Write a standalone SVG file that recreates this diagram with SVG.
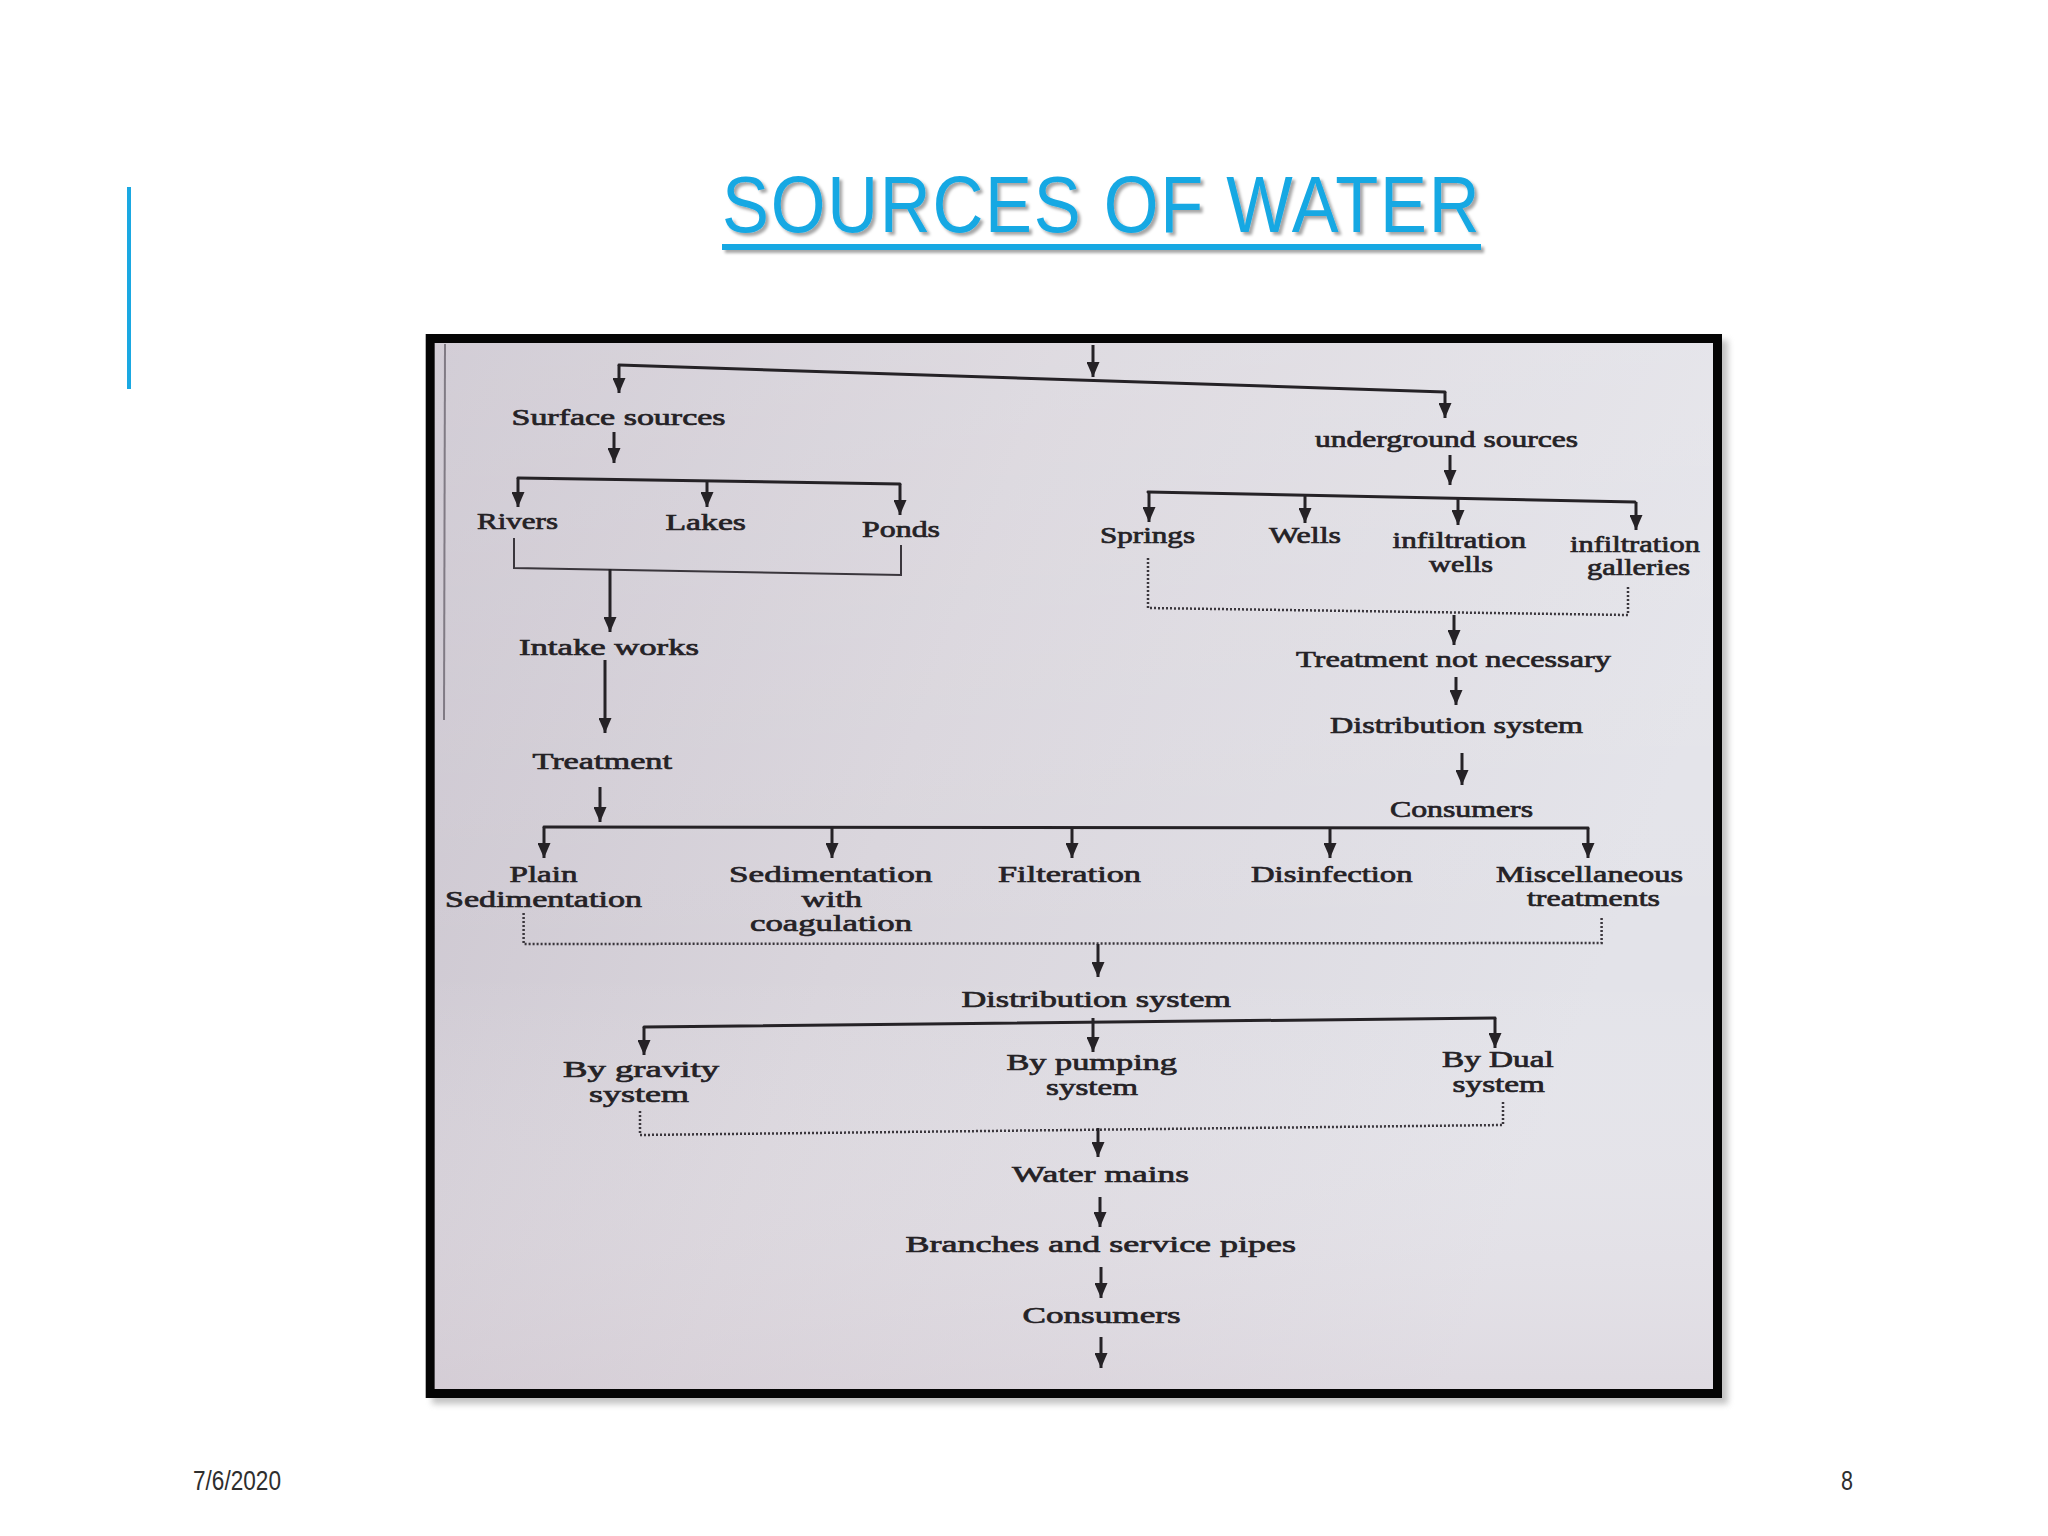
<svg xmlns="http://www.w3.org/2000/svg" width="2048" height="1536" viewBox="0 0 2048 1536">
<defs>
<style>
.t{font-family:"Liberation Serif","Times New Roman",serif;font-size:24px;fill:#252226;stroke:#252226;stroke-width:0.7px}
.ln{fill:none;stroke:#252226;stroke-width:3;stroke-linecap:round;stroke-linejoin:round}
.ar{fill:none;stroke:#252226;stroke-width:3;marker-end:url(#ah)}
.br{fill:none;stroke:#3a363c;stroke-width:2}
.dot{fill:none;stroke:#3a363c;stroke-width:2.5;stroke-dasharray:2 2}
.ft{font-family:"Liberation Sans",Arial,sans-serif;font-size:27px;fill:#2e2e2e}
</style>
<marker id="ah" viewBox="0 0 13 15" refX="6.5" refY="15" markerWidth="13" markerHeight="15" markerUnits="userSpaceOnUse" orient="0">
<path d="M0,0 L13,0 L6.5,15 Z" fill="#252226"/>
</marker>
<linearGradient id="paper" x1="0" y1="0" x2="1" y2="0.3">
<stop offset="0" stop-color="#cbc5cf"/>
<stop offset="0.45" stop-color="#d9d5dc"/>
<stop offset="1" stop-color="#e3e3e9"/>
</linearGradient>
<linearGradient id="shade" x1="0" y1="0" x2="0" y2="1">
<stop offset="0" stop-color="#ffffff" stop-opacity="0.15"/>
<stop offset="0.6" stop-color="#ffffff" stop-opacity="0"/>
<stop offset="1" stop-color="#d6cad3" stop-opacity="0.35"/>
</linearGradient>
<filter id="tsh" x="-5%" y="-20%" width="110%" height="150%">
<feGaussianBlur in="SourceAlpha" stdDeviation="1.5"/>
<feOffset dx="3" dy="3" result="b"/>
<feFlood flood-color="#000" flood-opacity="0.35"/>
<feComposite in2="b" operator="in"/>
<feMerge><feMergeNode/><feMergeNode in="SourceGraphic"/></feMerge>
</filter>
<filter id="fsh" x="-5%" y="-5%" width="110%" height="110%">
<feGaussianBlur stdDeviation="3"/>
</filter>
</defs>
<rect width="2048" height="1536" fill="#ffffff"/>
<rect x="127" y="187" width="4" height="202" fill="#1aa8e2"/>
<g id="title" filter="url(#tsh)">
<text transform="translate(722,232) scale(0.88,1)" x="0" y="0" font-family="Liberation Sans, Arial, sans-serif" font-size="80" fill="#17a8e3" textLength="861" lengthAdjust="spacing">SOURCES OF WATER</text>
<rect x="722" y="244" width="759" height="6" fill="#17a8e3"/>
</g>
<g id="photo">
<rect x="432" y="340" width="1296" height="1064" fill="#9a9a9a" opacity="0.6" filter="url(#fsh)"/>
<rect x="430.2" y="338.5" width="1287.3" height="1055" fill="url(#paper)" stroke="#050505" stroke-width="9"/>
<rect x="434.7" y="343" width="1278.3" height="1046" fill="url(#shade)"/>
<line x1="445" y1="344" x2="444" y2="720" stroke="#5e5862" stroke-width="2" opacity="0.7"/>
</g>
<g id="connectors">
<line class="ar" x1="1093" y1="345" x2="1093" y2="377"/>
<line class="ln" x1="619" y1="365" x2="1445" y2="392"/>
<line class="ar" x1="619" y1="365" x2="619" y2="393"/>
<line class="ar" x1="1445" y1="392" x2="1445" y2="418"/>
<line class="ar" x1="614" y1="432" x2="614" y2="463"/>
<line class="ln" x1="518" y1="478" x2="900" y2="484"/>
<line class="ar" x1="518" y1="478" x2="518" y2="507"/>
<line class="ar" x1="707" y1="481" x2="707" y2="507"/>
<line class="ar" x1="900" y1="484" x2="900" y2="515"/>
<polyline class="br" points="514,538 514,568 901,575 901,545"/>
<line class="ar" x1="610" y1="569" x2="610" y2="632"/>
<line class="ar" x1="605" y1="660" x2="605" y2="733"/>
<line class="ar" x1="600" y1="787" x2="600" y2="822"/>
<line class="ar" x1="1450" y1="455" x2="1450" y2="485"/>
<line class="ln" x1="1148" y1="492" x2="1635" y2="502"/>
<line class="ar" x1="1149" y1="492" x2="1149" y2="522"/>
<line class="ar" x1="1305" y1="495" x2="1305" y2="523"/>
<line class="ar" x1="1458" y1="498" x2="1458" y2="525"/>
<line class="ar" x1="1636" y1="502" x2="1636" y2="530"/>
<polyline class="dot" points="1148,558 1148,608 1628,615 1628,587"/>
<line class="ar" x1="1454" y1="615" x2="1454" y2="645"/>
<line class="ar" x1="1456" y1="677" x2="1456" y2="705"/>
<line class="ar" x1="1462" y1="753" x2="1462" y2="785"/>
<line class="ln" x1="544" y1="827" x2="1588" y2="828"/>
<line class="ar" x1="544" y1="827" x2="544" y2="858"/>
<line class="ar" x1="832" y1="827" x2="832" y2="858"/>
<line class="ar" x1="1072" y1="828" x2="1072" y2="858"/>
<line class="ar" x1="1330" y1="828" x2="1330" y2="858"/>
<line class="ar" x1="1588" y1="828" x2="1588" y2="858"/>
<polyline class="dot" points="523.6,913 523.6,944 1601.6,943 1601.6,917"/>
<line class="ar" x1="1098" y1="944" x2="1098" y2="977"/>
<line class="ln" x1="644" y1="1027" x2="1495" y2="1018"/>
<line class="ar" x1="1093" y1="1018" x2="1093" y2="1052"/>
<line class="ar" x1="644" y1="1027" x2="644" y2="1055"/>
<line class="ar" x1="1495" y1="1018" x2="1495" y2="1048"/>
<polyline class="dot" points="640,1111 640,1135 1503,1125 1503,1100"/>
<line class="ar" x1="1098" y1="1128" x2="1098" y2="1157"/>
<line class="ar" x1="1100" y1="1197" x2="1100" y2="1227"/>
<line class="ar" x1="1101" y1="1267" x2="1101" y2="1298"/>
<line class="ar" x1="1101" y1="1337" x2="1101" y2="1368"/>
</g>
<g id="n-surface"><text class="t" x="511.5" y="425" textLength="214" lengthAdjust="spacingAndGlyphs">Surface sources</text></g>
<g id="n-underground"><text class="t" x="1315" y="447" textLength="263" lengthAdjust="spacingAndGlyphs">underground sources</text></g>
<g id="n-rivers"><text class="t" x="477" y="529" textLength="81" lengthAdjust="spacingAndGlyphs">Rivers</text></g>
<g id="n-lakes"><text class="t" x="665.5" y="530" textLength="80.5" lengthAdjust="spacingAndGlyphs">Lakes</text></g>
<g id="n-ponds"><text class="t" x="862" y="537" textLength="78" lengthAdjust="spacingAndGlyphs">Ponds</text></g>
<g id="n-springs"><text class="t" x="1100" y="543" textLength="95" lengthAdjust="spacingAndGlyphs">Springs</text></g>
<g id="n-wells"><text class="t" x="1269" y="543" textLength="72" lengthAdjust="spacingAndGlyphs">Wells</text></g>
<g id="n-infwells"><text class="t" x="1392.6" y="548" textLength="133.4" lengthAdjust="spacingAndGlyphs">infiltration</text><text class="t" x="1429" y="572" textLength="64" lengthAdjust="spacingAndGlyphs">wells</text></g>
<g id="n-infgal"><text class="t" x="1570" y="552" textLength="130" lengthAdjust="spacingAndGlyphs">infiltration</text><text class="t" x="1587" y="575" textLength="103" lengthAdjust="spacingAndGlyphs">galleries</text></g>
<g id="n-intake"><text class="t" x="519" y="655" textLength="180" lengthAdjust="spacingAndGlyphs">Intake works</text></g>
<g id="n-treatment"><text class="t" x="532.5" y="769" textLength="139.5" lengthAdjust="spacingAndGlyphs">Treatment</text></g>
<g id="n-notnec"><text class="t" x="1296" y="667" textLength="315" lengthAdjust="spacingAndGlyphs">Treatment not necessary</text></g>
<g id="n-dist1"><text class="t" x="1330" y="733" textLength="253" lengthAdjust="spacingAndGlyphs">Distribution system</text></g>
<g id="n-cons1"><text class="t" x="1390" y="817" textLength="143" lengthAdjust="spacingAndGlyphs">Consumers</text></g>
<g id="n-plain"><text class="t" x="509.5" y="882" textLength="68" lengthAdjust="spacingAndGlyphs">Plain</text><text class="t" x="445" y="907" textLength="197" lengthAdjust="spacingAndGlyphs">Sedimentation</text></g>
<g id="n-sedcoag"><text class="t" x="729" y="882" textLength="203.5" lengthAdjust="spacingAndGlyphs">Sedimentation</text><text class="t" x="801.5" y="907" textLength="60.5" lengthAdjust="spacingAndGlyphs">with</text><text class="t" x="750" y="931" textLength="162" lengthAdjust="spacingAndGlyphs">coagulation</text></g>
<g id="n-filter"><text class="t" x="998" y="882" textLength="143" lengthAdjust="spacingAndGlyphs">Filteration</text></g>
<g id="n-disinf"><text class="t" x="1251" y="882" textLength="161.5" lengthAdjust="spacingAndGlyphs">Disinfection</text></g>
<g id="n-misc"><text class="t" x="1496" y="882" textLength="187" lengthAdjust="spacingAndGlyphs">Miscellaneous</text><text class="t" x="1527" y="906" textLength="133" lengthAdjust="spacingAndGlyphs">treatments</text></g>
<g id="n-dist2"><text class="t" x="961.6" y="1007" textLength="269.4" lengthAdjust="spacingAndGlyphs">Distribution system</text></g>
<g id="n-gravity"><text class="t" x="563" y="1077" textLength="156" lengthAdjust="spacingAndGlyphs">By gravity</text><text class="t" x="589" y="1102" textLength="100" lengthAdjust="spacingAndGlyphs">system</text></g>
<g id="n-pumping"><text class="t" x="1006.5" y="1070" textLength="170.5" lengthAdjust="spacingAndGlyphs">By pumping</text><text class="t" x="1046" y="1095" textLength="92" lengthAdjust="spacingAndGlyphs">system</text></g>
<g id="n-dual"><text class="t" x="1442" y="1067" textLength="111.7" lengthAdjust="spacingAndGlyphs">By Dual</text><text class="t" x="1452.6" y="1092" textLength="92.4" lengthAdjust="spacingAndGlyphs">system</text></g>
<g id="n-mains"><text class="t" x="1012" y="1182" textLength="177" lengthAdjust="spacingAndGlyphs">Water mains</text></g>
<g id="n-branches"><text class="t" x="905.5" y="1252" textLength="390.5" lengthAdjust="spacingAndGlyphs">Branches and service pipes</text></g>
<g id="n-cons2"><text class="t" x="1022.6" y="1323" textLength="158" lengthAdjust="spacingAndGlyphs">Consumers</text></g>
<g id="footer">
<text class="ft" x="193" y="1490" textLength="88" lengthAdjust="spacingAndGlyphs">7/6/2020</text>
<text class="ft" x="1841" y="1490" textLength="12" lengthAdjust="spacingAndGlyphs">8</text>
</g>
</svg>
